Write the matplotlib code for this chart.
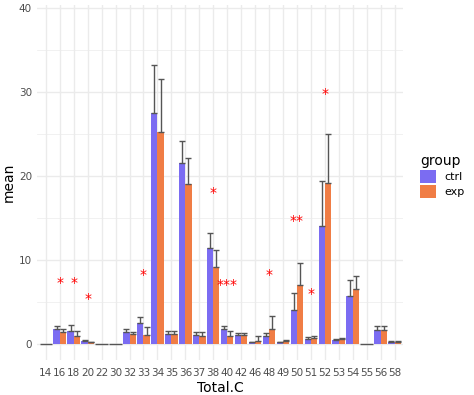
import numpy as np
import matplotlib
matplotlib.use("Agg")
from matplotlib import pyplot as plt
from matplotlib.patches import Patch

categories = ["14", "16", "18", "20", "22", "30", "32", "33", "34", "35", "36", "37", "38",
              "40", "42", "46", "48", "49", "50", "51", "52", "53", "54", "55", "56", "58"]

# NaN in exp = only one group measured at that carbon number
ctrl_mean = [0.0, 1.8, 1.6, 0.4, 0.0, 0.0, 1.4, 2.5, 27.5, 1.2, 21.5, 1.1, 11.4,
             1.8, 1.1, 0.2, 0.9, 0.25, 4.05, 0.55, 14.0, 0.5, 5.7, 0.0, 1.7, 0.3]
ctrl_se = [0.0, 0.4, 0.7, 0.1, 0.0, 0.0, 0.4, 0.7, 5.7, 0.3, 2.7, 0.3, 1.8,
           0.4, 0.2, 0.1, 0.4, 0.05, 2.05, 0.3, 5.4, 0.1, 1.9, 0.0, 0.5, 0.05]
exp_mean = [np.nan, 1.4, 1.0, 0.25, np.nan, np.nan, 1.2, 1.1, 25.3, 1.2, 19.1, 1.0, 9.2,
            1.0, 1.1, 0.4, 1.8, 0.4, 7.0, 0.75, 19.2, 0.6, 6.6, np.nan, 1.7, 0.3]
exp_se = [np.nan, 0.4, 0.5, 0.05, np.nan, np.nan, 0.2, 0.9, 6.3, 0.3, 3.1, 0.4, 2.0,
          0.6, 0.2, 0.5, 1.5, 0.1, 2.6, 0.25, 5.8, 0.1, 1.5, np.nan, 0.5, 0.05]

sig_cats = ["16", "18", "20", "33", "38", "40", "48", "50", "51", "52"]
sig_labels = ["*", "*", "*", "*", "*", "***", "*", "**", "*", "*"]
sig_y = [7.3, 7.3, 5.4, 8.2, 18.0, 7.0, 8.2, 14.6, 6.0, 29.8]

scheme = {
    "ctrl": "#7B6CF2",
    "exp": "#F07D45",
    "err": "#555555",
    "grid": "#EBEBEB",
    "text": "#4D4D4D",
}

x = np.arange(len(categories))
ctrl_mean = np.array(ctrl_mean)
ctrl_se = np.array(ctrl_se)
exp_mean = np.array(exp_mean)
exp_se = np.array(exp_se)
single = np.isnan(exp_mean)
w = 0.45

fig = plt.figure(figsize=(4.74, 3.95), dpi=100)
ax = fig.add_axes([0.079, 0.0886, 0.771, 0.8987])

# two-group categories
pair = ~single
ax.bar(x[pair] - w / 2, ctrl_mean[pair], width=w, color=scheme["ctrl"], zorder=2)
ax.bar(x[pair] + w / 2, exp_mean[pair], width=w, color=scheme["exp"], zorder=2)
ax.errorbar(x[pair] - w / 2, ctrl_mean[pair], yerr=[np.zeros(pair.sum()), ctrl_se[pair]],
            fmt="none", ecolor=scheme["err"], elinewidth=1, capsize=2.2, zorder=3)
ax.errorbar(x[pair] + w / 2, exp_mean[pair], yerr=[np.zeros(pair.sum()), exp_se[pair]],
            fmt="none", ecolor=scheme["err"], elinewidth=1, capsize=2.2, zorder=3)

# single-group categories: flat full-width bar
ax.hlines(ctrl_mean[single], x[single] - 0.45, x[single] + 0.45,
          color=scheme["err"], linewidth=1, zorder=3)

for cat, lab, yy in zip(sig_cats, sig_labels, sig_y):
    ax.text(categories.index(cat), yy, lab, color="red", fontsize=10,
            ha="center", va="center", zorder=4)

ax.set_xlim(-0.6, len(categories) - 0.4)
ax.set_ylim(-1.9, 40.36)
ax.set_xticks(x)
ax.set_xticklabels(categories)
ax.set_yticks([0, 10, 20, 30, 40])
ax.set_yticks([5, 15, 25, 35], minor=True)

for spine in ax.spines.values():
    spine.set_visible(False)
ax.grid(True, which="major", color=scheme["grid"], linewidth=1.0, zorder=0)
ax.grid(True, which="minor", axis="y", color=scheme["grid"], linewidth=0.5, zorder=0)
ax.set_axisbelow(True)
ax.tick_params(axis="both", which="both", length=0, labelsize=7.5, colors=scheme["text"], pad=4)
ax.tick_params(axis="x", pad=6)

ax.set_xlabel("Total.C", fontsize=10, color="black", labelpad=2)
ax.set_ylabel("mean", fontsize=10, color="black", labelpad=2)

handles = [Patch(facecolor=scheme["ctrl"], label="ctrl"),
           Patch(facecolor=scheme["exp"], label="exp")]
fig.legend(handles=handles, title="group", loc="center left",
           bbox_to_anchor=(0.865, 0.555), frameon=False, fontsize=8,
           title_fontsize=10, handlelength=1.4, handleheight=1.4,
           handletextpad=0.8, labelspacing=0.2, alignment="left")

fig.savefig("out.png", dpi=100)
